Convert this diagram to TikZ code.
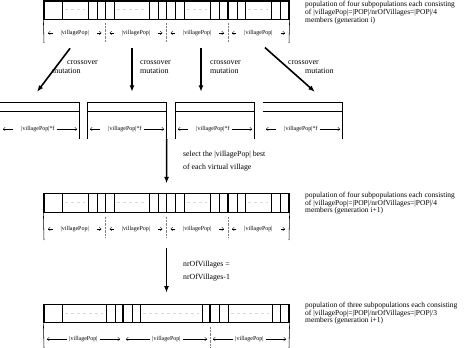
\documentclass[tikz,border=0pt]{standalone}
\usepackage{fontspec}
\setmainfont{Liberation Serif}
\usetikzlibrary{arrows.meta}

\tikzset{
  bar/.style={
    draw,
    line width=1.2pt,
    minimum width=245pt,
    minimum height=18.5pt,
    inner sep=0
  },
  slot/.style={
    minimum width=79.5pt,
    minimum height=37pt,
    inner sep=0
  },
  cell/.style={line width=0.55pt},
  cut/.style={line width=1.2pt},
  filler/.style={gray!30, dashed, line width=0.3pt},
  gap/.style={gray, densely dotted, line width=0.4pt},
  flow/.style={-{Latex[length=6.5pt,width=5pt]}, line width=1.6pt},
  span/.style={-{Straight Barb[length=2pt,width=3.5pt]}, line width=0.35pt},
  brief/.style={shorten <=6pt},
  lbl/.style={font=\fontsize{6}{7}\selectfont, inner sep=2pt},
  op/.style={font=\fontsize{8}{9}\selectfont, align=left, anchor=north west, inner sep=0},
  remark/.style={font=\fontsize{7.8}{12.5}\selectfont, align=left, anchor=north west, inner sep=0},
  note/.style={font=\fontsize{7.5}{7.6}\selectfont, align=left, anchor=north west, inner sep=0}
}

\begin{document}
\begin{tikzpicture}[x=1pt, y=-1pt]
  \useasboundingbox (0,0) rectangle (474,348);

  % generation i
  \node[bar] (pop1) at (166.5,10.25) {};
  \foreach \x in {62,88,97,114,149,158,175,184,210,219,237,245,271,280}
    \draw[cell] (\x,1) -- (\x,19.5);
  \foreach \x in {105.5,166.5,228}
    \draw[cut] (\x,1) -- (\x,19.5);
  \foreach \a/\b in {62/88,114/149,184/210,245/271}
    \draw[filler] ({\a+3},9) -- ({\b-3},9);
  \draw[cell] (pop1.south west) -- (44,43);
  \draw[cell] (pop1.south east) -- (289,43);
  \foreach \x in {105.5,166.5,228}
    \draw[gap] (\x,23) -- (\x,42);
  \foreach \i/\a/\b in {1/44/105.5,2/105.5/166.5,3/166.5/228,4/228/289} {
    \node[lbl] (u\i) at ({(\a+\b)/2},33) {|villagePop|};
    \coordinate (ul\i) at ({\a+4},33);
    \coordinate (ur\i) at ({\b-4},33);
    \draw[span, brief] (u\i) -- (ul\i);
    \draw[span, brief] (u\i) -- (ur\i);
  }
  \node[note] (n1) at (305,1.5) {population of four subpopulations each consisting\\of |villagePop|=|POP|/nrOfVillages=|POP|/4\\members (generation i)};

  % virtual villages
  \foreach \i/\x in {1/0,2/87,3/175,4/263} {
    \node[slot] (box\i) at ({\x+39.75},120.5) {};
    \draw[cell] (box\i.north west) -- (box\i.north east) -- (box\i.south east);
    \draw[cell] ([yshift=-9pt]box\i.north west) -- ([yshift=-9pt]box\i.north east);
    \node[lbl] (f\i) at ({\x+38},129) {|villagePop|*f};
    \coordinate (fl\i) at ({\x+3},129);
    \coordinate (fr\i) at ({\x+77},129);
    \draw[span, brief] (f\i) -- (fl\i);
    \draw[span] (f\i) -- (fr\i);
  }
  \draw[cell] (box2.north west) -- (box2.south west);
  \draw[cell] (box3.north west) -- (box3.south west);

  \draw[flow, shorten <=13pt, shorten >=12.5pt] ([xshift=3.2pt]u1.south) -- ([xshift=-10.25pt]box1.north);
  \draw[flow, shorten <=10.5pt, shorten >=10pt] ([xshift=-4pt]u2.south) -- ([xshift=5.25pt]box2.north);
  \draw[flow, shorten <=10.5pt, shorten >=10pt] ([xshift=3.75pt]u3.south) -- ([xshift=-13.75pt]box3.north);
  \draw[flow, shorten <=14.5pt, shorten >=15pt] ([xshift=-4.4pt]u4.south) -- ([xshift=23.35pt]box4.north);
  \node[op] (c1) at (52,60.5) {\hspace{15pt}crossover\\mutation};
  \node[op] (c2) at (140,60.5) {crossover\\mutation};
  \node[op] (c3) at (210,60.5) {crossover\\mutation};
  \node[op] (c4) at (288,60.5) {crossover\\\hspace{17pt}mutation};

  % generation i+1
  \node[bar] (pop2) at (166.5,203) {};
  \foreach \x in {62,88,97,114,149,158,175,184,210,219,237,245,271,280}
    \draw[cell] (\x,193.75) -- (\x,212.25);
  \foreach \x in {105.5,166.5,228}
    \draw[cut] (\x,193.75) -- (\x,212.25);
  \foreach \a/\b in {62/88,114/149,184/210,245/271}
    \draw[filler] ({\a+3},202) -- ({\b-3},202);
  \draw[cell] (pop2.south west) -- (44,240);
  \draw[cell] (pop2.south east) -- (289,240);
  \foreach \x in {105.5,166.5,228}
    \draw[gap] (\x,217) -- (\x,238);
  \foreach \i/\a/\b in {1/44/105.5,2/105.5/166.5,3/166.5/228,4/228/289} {
    \node[lbl] (v\i) at ({(\a+\b)/2},229) {|villagePop|};
    \coordinate (vl\i) at ({\a+4},229);
    \coordinate (vr\i) at ({\b-4},229);
    \draw[span, brief] (v\i) -- (vl\i);
    \draw[span, brief] (v\i) -- (vr\i);
  }
  \node[note] (n2) at (305,192) {population of four subpopulations each consisting\\of |villagePop|=|POP|/nrOfVillages=|POP|/4\\members (generation i+1)};

  \draw[flow, shorten >=9.75pt] (box2.south east) -- (pop2.north);
  \node[remark] (s1) at (183,151) {select the |villagePop| best\\of each virtual village};

  % one village less
  \node[bar] (pop3) at (166.5,313.5) {};
  \foreach \x in {62,106,115,132,140,202,219,228,272,280}
    \draw[cell] (\x,304.25) -- (\x,322.75);
  \foreach \x in {123,210}
    \draw[cut] (\x,304.25) -- (\x,322.75);
  \foreach \a/\b in {62/106,140/202,228/272}
    \draw[filler] ({\a+3},313) -- ({\b-3},313);
  \draw[cell] (pop3.south west) -- (44,348);
  \draw[cell] (pop3.south east) -- (289,348);
  \draw[gap] (210,327) -- (210,348);
  \foreach \i/\a/\b in {1/44/123,2/123/210,3/210/289} {
    \node[lbl] (w\i) at ({(\a+\b)/2},339) {|villagePop|};
    \coordinate (wl\i) at ({\a+3},339);
    \coordinate (wr\i) at ({\b-3},339);
    \draw[span] (w\i) -- (wl\i);
    \draw[span] (w\i) -- (wr\i);
  }
  \node[note] (n3) at (305,302) {population of three subpopulations each consisting\\of |villagePop|=|POP|/nrOfVillages=|POP|/3\\members (generation i+1)};

  \draw[flow, shorten <=35pt, shorten >=11pt] (pop2.south) -- (pop3.north);
  \node[remark] (s2) at (183,261) {nrOfVillages =\\nrOfVillages-1};
\end{tikzpicture}
\end{document}
